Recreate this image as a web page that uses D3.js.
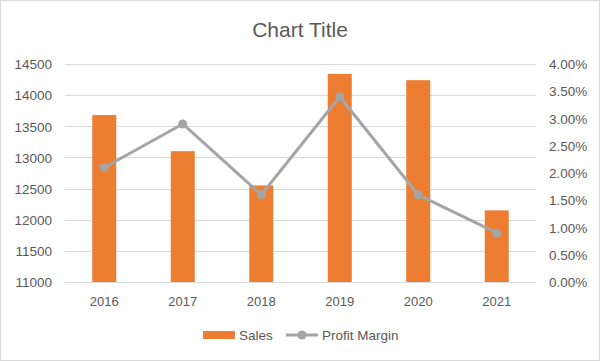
<!DOCTYPE html>
<html><head><meta charset="utf-8">
<script src="https://cdn.jsdelivr.net/npm/d3@7"></script>
<style>body{margin:0;background:#fff}svg{display:block}text{font-family:"Liberation Sans",Arial,sans-serif;fill:#595959}</style>
</head><body><svg id="c" width="600" height="361"></svg>
<script>
const years = ["2016","2017","2018","2019","2020","2021"];
const sales = [13680, 13100, 12550, 14340, 14240, 12150];
const profitMargin = [0.021, 0.029, 0.016, 0.034, 0.016, 0.009];
const leftTicks = [11000,11500,12000,12500,13000,13500,14000,14500];
const rightTicks = [0,0.005,0.01,0.015,0.02,0.025,0.03,0.035,0.04];

const svg = d3.select("#c");
svg.append("rect").attr("x",0.5).attr("y",0.5).attr("width",599).attr("height",360)
  .attr("fill","#fff").attr("stroke","#d9d9d9");

const L=65, R=536, T=64, B=282;
const x = d3.scaleBand().domain(years).range([L,R]);
const yL = d3.scaleLinear().domain([11000,14500]).range([B,T]);
const yR = d3.scaleLinear().domain([0,0.04]).range([B,T]);

svg.append("text").attr("x",300).attr("y",37).attr("text-anchor","middle")
  .style("font-size","21px").text("Chart Title");

// gridlines
svg.append("g").selectAll("line").data(leftTicks).join("line")
  .attr("x1",L).attr("x2",R).attr("y1",d=>Math.round(yL(d))+0.5).attr("y2",d=>Math.round(yL(d))+0.5)
  .attr("stroke","#d9d9d9").attr("stroke-width",1);

// left axis
const ax = d3.axisLeft(yL).tickValues(leftTicks).tickSize(0).tickPadding(0).tickFormat(d3.format("d"));
const gL = svg.append("g").attr("transform",`translate(${L-13},0)`).call(ax);
gL.select(".domain").remove();
gL.selectAll("text").style("font-size","13.5px").attr("fill","#595959").attr("dy","0.35em");

const ar = d3.axisRight(yR).tickValues(rightTicks).tickSize(0).tickPadding(0).tickFormat(d3.format(".2%"));
const gR = svg.append("g").attr("transform",`translate(${R+13},0)`).call(ar);
gR.select(".domain").remove();
gR.selectAll("text").style("font-size","13.5px").attr("fill","#595959").attr("dy","0.35em");

const axb = d3.axisBottom(x).tickSize(0).tickPadding(0);
const gB = svg.append("g").attr("transform",`translate(0,${B+15})`).call(axb);
gB.select(".domain").remove();
gB.selectAll("text").style("font-size","13px").attr("fill","#595959").attr("dy","0.71em");

// bars
const bw = 24;
svg.append("g").selectAll("rect").data(years).join("rect")
  .attr("x",(d)=>x(d)+x.bandwidth()/2-bw/2).attr("width",bw)
  .attr("y",(d,i)=>yL(sales[i])).attr("height",(d,i)=>B-yL(sales[i]))
  .attr("fill","#ED7D31");

// line
const line = d3.line().x((d,i)=>x(years[i])+x.bandwidth()/2).y(d=>yR(d));
svg.append("path").datum(profitMargin).attr("d",line).attr("fill","none")
  .attr("stroke","#A5A5A5").attr("stroke-width",3).attr("stroke-linejoin","round");
svg.append("g").selectAll("circle").data(profitMargin).join("circle")
  .attr("cx",(d,i)=>x(years[i])+x.bandwidth()/2).attr("cy",d=>yR(d)).attr("r",4.5)
  .attr("fill","#A5A5A5");

// legend
const lg = svg.append("g");
lg.append("rect").attr("x",203).attr("y",331).attr("width",32).attr("height",8).attr("fill","#ED7D31");
lg.append("text").attr("x",239).attr("y",340).style("font-size","13.5px").text("Sales");
lg.append("line").attr("x1",286).attr("x2",318).attr("y1",335).attr("y2",335).attr("stroke","#A5A5A5").attr("stroke-width",3);
lg.append("circle").attr("cx",302).attr("cy",335).attr("r",4.5).attr("fill","#A5A5A5");
lg.append("text").attr("x",322).attr("y",340).style("font-size","13.5px").text("Profit Margin");
</script></body></html>
